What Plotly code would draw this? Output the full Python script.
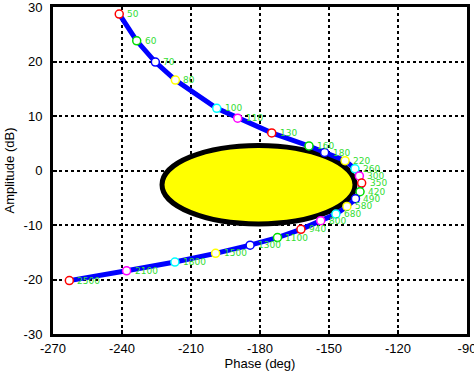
import plotly.graph_objects as go

# Nichols-type curve: frequency labels, phase (deg), amplitude (dB)
freq_labels = ["50", "60", "70", "80", "100", "110", "130", "160", "180", "220", "260", "300",
               "350", "420", "490", "580", "680", "800", "940", "1100", "1300", "1500",
               "1800", "2100", "2500"]
phase = [-241.2, -233.6, -225.5, -216.8, -198.8, -189.7, -174.9, -158.7, -151.9, -143.0,
         -138.7, -136.8, -135.8, -136.5, -138.5, -142.2, -147.0, -153.6, -162.2, -172.4,
         -184.3, -199.3, -217.0, -238.0, -262.9]
amplitude = [28.7, 23.8, 19.9, 16.6, 11.4, 9.6, 6.9, 4.5, 3.3, 1.8, 0.3, -1.0, -2.3, -3.9,
             -5.2, -6.6, -8.0, -9.2, -10.8, -12.3, -13.7, -15.2, -16.8, -18.4, -20.2]
marker_cycle = ["#ff0000", "#00dd00", "#0000ff", "#ffff00", "#00ffff", "#ff00ff"]

# exclusion ellipse bounds (phase, dB)
ellipse_phase = [-222.6, -138.7]
ellipse_amp = [-9.8, 4.6]

x_ticks = [-270, -240, -210, -180, -150, -120, -90]
x_tick_text = ["-270", "-240", "-210", "-180", "-150", "-120", "-90"]
y_ticks = [-30, -20, -10, 0, 10, 20, 30]
y_tick_text = ["-30", "-20", "-10", "0", "10", "20", "30"]

colors = [marker_cycle[i % len(marker_cycle)] for i in range(len(phase))]

fig = go.Figure()
fig.add_trace(go.Scatter(
    x=phase, y=amplitude, mode="lines",
    line=dict(color="#0000ff", width=5),
    hoverinfo="skip", showlegend=False,
))
fig.add_trace(go.Scatter(
    x=phase, y=amplitude, mode="markers",
    marker=dict(size=8, color="white", line=dict(color=colors, width=1.5)),
    showlegend=False,
))

for xv, yv, t in zip(phase, amplitude, freq_labels):
    fig.add_annotation(x=xv, y=yv, text=t, showarrow=False, xanchor="left",
                       xshift=6, yshift=0,
                       font=dict(size=9, color="#33dd33", family="DejaVu Sans"))

fig.add_shape(type="circle", xref="x", yref="y",
              x0=ellipse_phase[0], x1=ellipse_phase[1],
              y0=ellipse_amp[0], y1=ellipse_amp[1],
              fillcolor="#ffff00", line=dict(color="black", width=5), layer="between")

axis_common = dict(
    showline=True, linecolor="black", linewidth=3, mirror=True,
    ticks="inside", ticklen=4, tickcolor="black", tickwidth=1.5,
    showgrid=True, gridcolor="black", gridwidth=1.5, griddash="dot",
    zeroline=False, automargin=False, ticklabeloverflow="allow",
    tickfont=dict(family="Liberation Sans, Arial", size=13, color="black"),
)

fig.update_xaxes(range=[-270, -90], tickvals=x_ticks, ticktext=x_tick_text,
                 title=dict(text="Phase (deg)", standoff=2,
                            font=dict(family="Liberation Sans, Arial", size=13, color="black")),
                 **axis_common)
fig.update_yaxes(range=[-30, 30], tickvals=y_ticks, ticktext=y_tick_text,
                 ticklabelstandoff=5, **axis_common)

fig.add_annotation(text="Amplitude (dB)", xref="paper", yref="paper", x=0, y=0.5,
                   xanchor="center", yanchor="middle", xshift=-44, textangle=-90,
                   showarrow=False,
                   font=dict(family="Liberation Sans, Arial", size=13, color="black"))

fig.update_layout(
    template="none",
    width=474, height=378,
    margin=dict(l=53, r=7, t=7, b=44),
    plot_bgcolor="white", paper_bgcolor="white",
    showlegend=False,
)

fig.write_html("out.html", config={"displayModeBar": False},
               post_script="document.body.style.margin='0';document.body.style.padding='0';")
